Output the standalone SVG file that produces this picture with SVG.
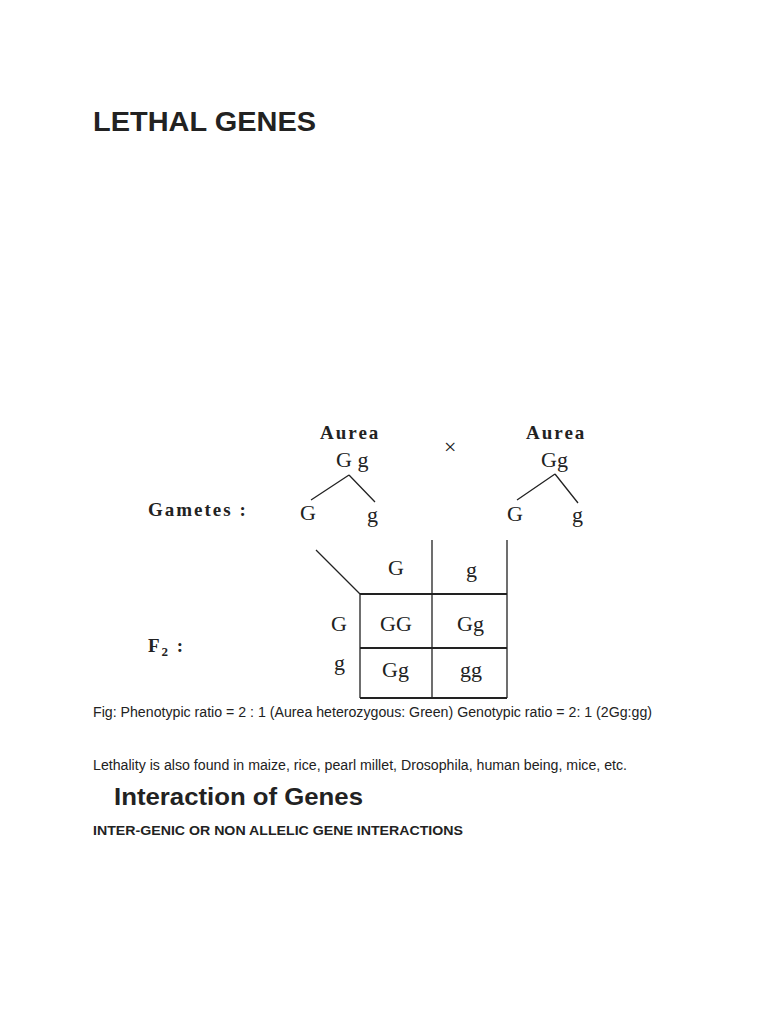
<svg xmlns="http://www.w3.org/2000/svg" width="768" height="1024" viewBox="0 0 768 1024">
<style>
.h{font-family:"Liberation Sans",Arial,sans-serif;font-weight:bold;fill:#222}
.s{font-family:"Liberation Sans",Arial,sans-serif;font-size:14px;fill:#222}
.t{font-family:"Liberation Serif","Times New Roman",serif;font-size:22px;fill:#222}
.b{font-family:"Liberation Serif","Times New Roman",serif;font-size:19px;font-weight:bold;fill:#222;letter-spacing:2px}
.l{stroke:#222;stroke-width:1.3;fill:none}
.g{stroke:#222;stroke-width:2;fill:none}
</style>
<rect width="768" height="1024" fill="#fff"/>
<text class="h" x="93" y="131" font-size="28" textLength="223" lengthAdjust="spacingAndGlyphs">LETHAL GENES</text>
<g id="labels">
<text class="b" x="320" y="439">Aurea</text>
<text class="b" x="526" y="439">Aurea</text>
<text class="t" x="336" y="467" font-size="20">G g</text>
<text class="t" x="541" y="467" font-size="21">Gg</text>
<text class="t" x="444" y="454" font-size="16">×</text>
<text class="b" x="148" y="516">Gametes :</text>
<text class="t" x="300" y="520" font-size="20">G</text>
<text class="t" x="367" y="522" font-size="20">g</text>
<text class="t" x="507" y="521" font-size="21">G</text>
<text class="t" x="572" y="522" font-size="21">g</text>
<text class="b" x="148" y="652" font-size="20">F<tspan font-size="13" dy="4">2</tspan><tspan dy="-4"> :</tspan></text>
<text class="t" x="388" y="575">G</text>
<text class="t" x="466" y="577">g</text>
<text class="t" x="331" y="631">G</text>
<text class="t" x="334" y="670">g</text>
<text class="t" x="380" y="631">GG</text>
<text class="t" x="457" y="631">Gg</text>
<text class="t" x="382" y="677">Gg</text>
<text class="t" x="460" y="677">gg</text>
</g>
<g id="connectors">
<path class="l" d="M349,475 L311,500 M349,475 L375,502 M555,474 L517,500 M555,474 L578,503 M316,550 L360,594"/>
<path class="l" d="M432,540 V698 M507,540 V698 M360,594 V698"/>
<path class="g" d="M360,594 H507 M360,648 H507 M360,698 H507"/>
</g>
<text class="s" x="93" y="717" textLength="559" lengthAdjust="spacingAndGlyphs">Fig: Phenotypic ratio = 2 : 1 (Aurea heterozygous: Green) Genotypic ratio = 2: 1 (2Gg:gg)</text>
<text class="s" x="93" y="770" textLength="534" lengthAdjust="spacingAndGlyphs">Lethality is also found in maize, rice, pearl millet, Drosophila, human being, mice, etc.</text>
<text class="h" x="114" y="805" font-size="24" textLength="249" lengthAdjust="spacingAndGlyphs">Interaction of Genes</text>
<text class="h" x="93" y="835" font-size="13.5" textLength="370" lengthAdjust="spacingAndGlyphs">INTER-GENIC OR NON ALLELIC GENE INTERACTIONS</text>
</svg>
